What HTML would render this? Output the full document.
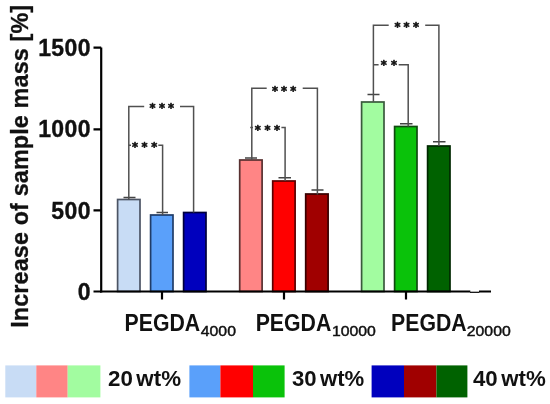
<!DOCTYPE html>
<html><head><meta charset="utf-8">
<style>
html,body{margin:0;padding:0;background:#fff;}
body{width:550px;height:404px;overflow:hidden;}
svg{display:block;}
.tk{font-family:"Liberation Sans",Arial,sans-serif;font-weight:bold;font-size:23px;letter-spacing:0.35px;fill:#111;stroke:#111;stroke-width:0.35px;}
.yl{font-family:"Liberation Sans",Arial,sans-serif;font-weight:bold;font-size:23.4px;letter-spacing:0.12px;fill:#111;stroke:#111;stroke-width:0.3px;}
.xl{font-family:"Liberation Sans",Arial,sans-serif;font-weight:bold;font-size:22.4px;fill:#111;}
.sub{font-family:"Liberation Sans",Arial,sans-serif;font-weight:normal;font-size:15.8px;fill:#111;stroke:#111;stroke-width:0.5px;}
.lg{font-family:"Liberation Sans",Arial,sans-serif;font-weight:bold;font-size:21px;word-spacing:-2.5px;fill:#111;}
.st{font-family:"DejaVu Sans",sans-serif;font-weight:bold;font-size:11.5px;fill:#111;stroke:#111;stroke-width:0.6px;stroke-linejoin:round;}
</style></head>
<body>
<svg width="550" height="404" viewBox="0 0 550 404">
<!-- y-axis label -->
<text class="yl" transform="translate(28.4,327.8) rotate(-90)">Increase of sample mass [%]</text>
<!-- tick labels -->
<g class="tk" text-anchor="end">
<text x="90.8" y="55.8">1500</text>
<text x="90.8" y="137">1000</text>
<text x="90.8" y="219">500</text>
<text x="90.8" y="299.6">0</text>
</g>
<!-- bars -->
<g stroke="#3e4046" stroke-width="1.7">
<rect x="117.6" y="199.5" width="22.4" height="92" fill="#c8dcf5" stroke="#4c5464"/>
<rect x="150.6" y="215" width="22.4" height="76.5" fill="#5aa0fa" stroke="#203c68"/>
<rect x="183.6" y="212.5" width="22.4" height="79" fill="#0000be" stroke="#00003c"/>
<rect x="239.7" y="160" width="22.4" height="131.5" fill="#ff8585" stroke="#583030"/>
<rect x="272.7" y="181" width="22.4" height="110.5" fill="#ff0000" stroke="#5a0000"/>
<rect x="305.7" y="194" width="22.4" height="97.5" fill="#a00000" stroke="#380000"/>
<rect x="361.6" y="102" width="22.4" height="189.5" fill="#a2fca0" stroke="#3a5a3c"/>
<rect x="394.6" y="126.5" width="22.4" height="165" fill="#0ac20a" stroke="#104a10"/>
<rect x="427.6" y="146" width="22.4" height="145.5" fill="#006200" stroke="#002800"/>
</g>
<!-- error caps -->
<g stroke="#444" stroke-width="1.6" fill="none">
<path d="M123.5 197.5H135.5M156.5 212.5H168M245 158H257M278.5 177.7H291M311.5 190H323.5M367.5 94.5H379.5M400 123.8H412.5M433 141.8H445.5"/>
</g>
<!-- brackets -->
<g stroke="#505050" stroke-width="1.5" fill="none">
<path d="M128.8 199.5V106.5H144.2M180 106.5H193.6V212.5"/>
<path d="M128.8 145.2H131M158.3 145.2H162.6V215"/>
<path d="M251.8 160V88.2H266.7M302.7 88.2H317.4V194.5"/>
<path d="M250.2 127.6H253M281.4 127.6H285.1V181"/>
<path d="M373.4 102V25.3H388.7M425.2 25.3H438.9V146"/>
<path d="M373.4 64.8H378.6M398.7 64.8H408.2V126.5"/>
</g>
<!-- stars -->
<g class="st" text-anchor="middle">
<text x="152.6 161.9 170.9" y="111.7">***</text>
<text x="134.9 144.4 154.2" y="150.7">***</text>
<text x="275.1 284.1 293.3" y="94.9">***</text>
<text x="257.8 267.4 277" y="133.9">***</text>
<text x="397.5 406.6 415.9" y="31.4">***</text>
<text x="383.8 394.1" y="69">**</text>
</g>
<!-- axes -->
<g stroke="#000" stroke-width="2.2" fill="none">
<path d="M101.2 47.5V292.5"/>
<path d="M93.5 47.7H101.2M93.5 129.3H101.2M93.5 210.3H101.2M93.5 291.5H101.2"/>
<path d="M100 291.5H470.3M479 291.5H491"/>
<path d="M470 292.3H479.3" stroke-width="1.2"/>
<path d="M162 291.5V299.5M284 291.5V299.5M406 291.5V299.5"/>
</g>
<!-- x labels -->
<g class="xl" transform="translate(0 330.9) scale(1 1.055) translate(0 -330.9)">
<text x="124.6" y="330.9" textLength="75.6" lengthAdjust="spacingAndGlyphs">PEGDA</text>
<text x="255.7" y="330.9" textLength="75.6" lengthAdjust="spacingAndGlyphs">PEGDA</text>
<text x="391.1" y="330.9" textLength="75.6" lengthAdjust="spacingAndGlyphs">PEGDA</text>
</g>
<g class="sub" transform="translate(0 336.1) scale(1 0.93) translate(0 -336.1)">
<text x="200.8" y="336.1">4000</text>
<text x="332" y="336.1">10000</text>
<text x="466.8" y="336.1">20000</text>
</g>
<!-- legend -->
<rect x="5.3" y="365.4" width="31" height="32" fill="#c8dcf5"/>
<rect x="36.3" y="365.4" width="31.4" height="32" fill="#ff8585"/>
<rect x="67.7" y="365.4" width="32.7" height="32" fill="#a2fca0"/>
<text class="lg" transform="translate(0 386) scale(1 1.06) translate(0 -386)" x="108" y="386" textLength="73" lengthAdjust="spacingAndGlyphs">20 wt%</text>
<rect x="189.4" y="365.4" width="31" height="32" fill="#5aa0fa"/>
<rect x="220.4" y="365.4" width="32.6" height="32" fill="#ff0000"/>
<rect x="253" y="365.4" width="31.6" height="32" fill="#0ac20a"/>
<text class="lg" transform="translate(0 386) scale(1 1.06) translate(0 -386)" x="291.9" y="386" textLength="72.4" lengthAdjust="spacingAndGlyphs">30 wt%</text>
<rect x="371.6" y="365.4" width="32.4" height="32" fill="#0000be"/>
<rect x="404" y="365.4" width="32.4" height="32" fill="#a00000"/>
<rect x="436.4" y="365.4" width="31" height="32" fill="#006200"/>
<text class="lg" transform="translate(0 386.2) scale(1 1.06) translate(0 -386.2)" x="472.9" y="386.2" textLength="72.9" lengthAdjust="spacingAndGlyphs">40 wt%</text>
</svg>
</body></html>
